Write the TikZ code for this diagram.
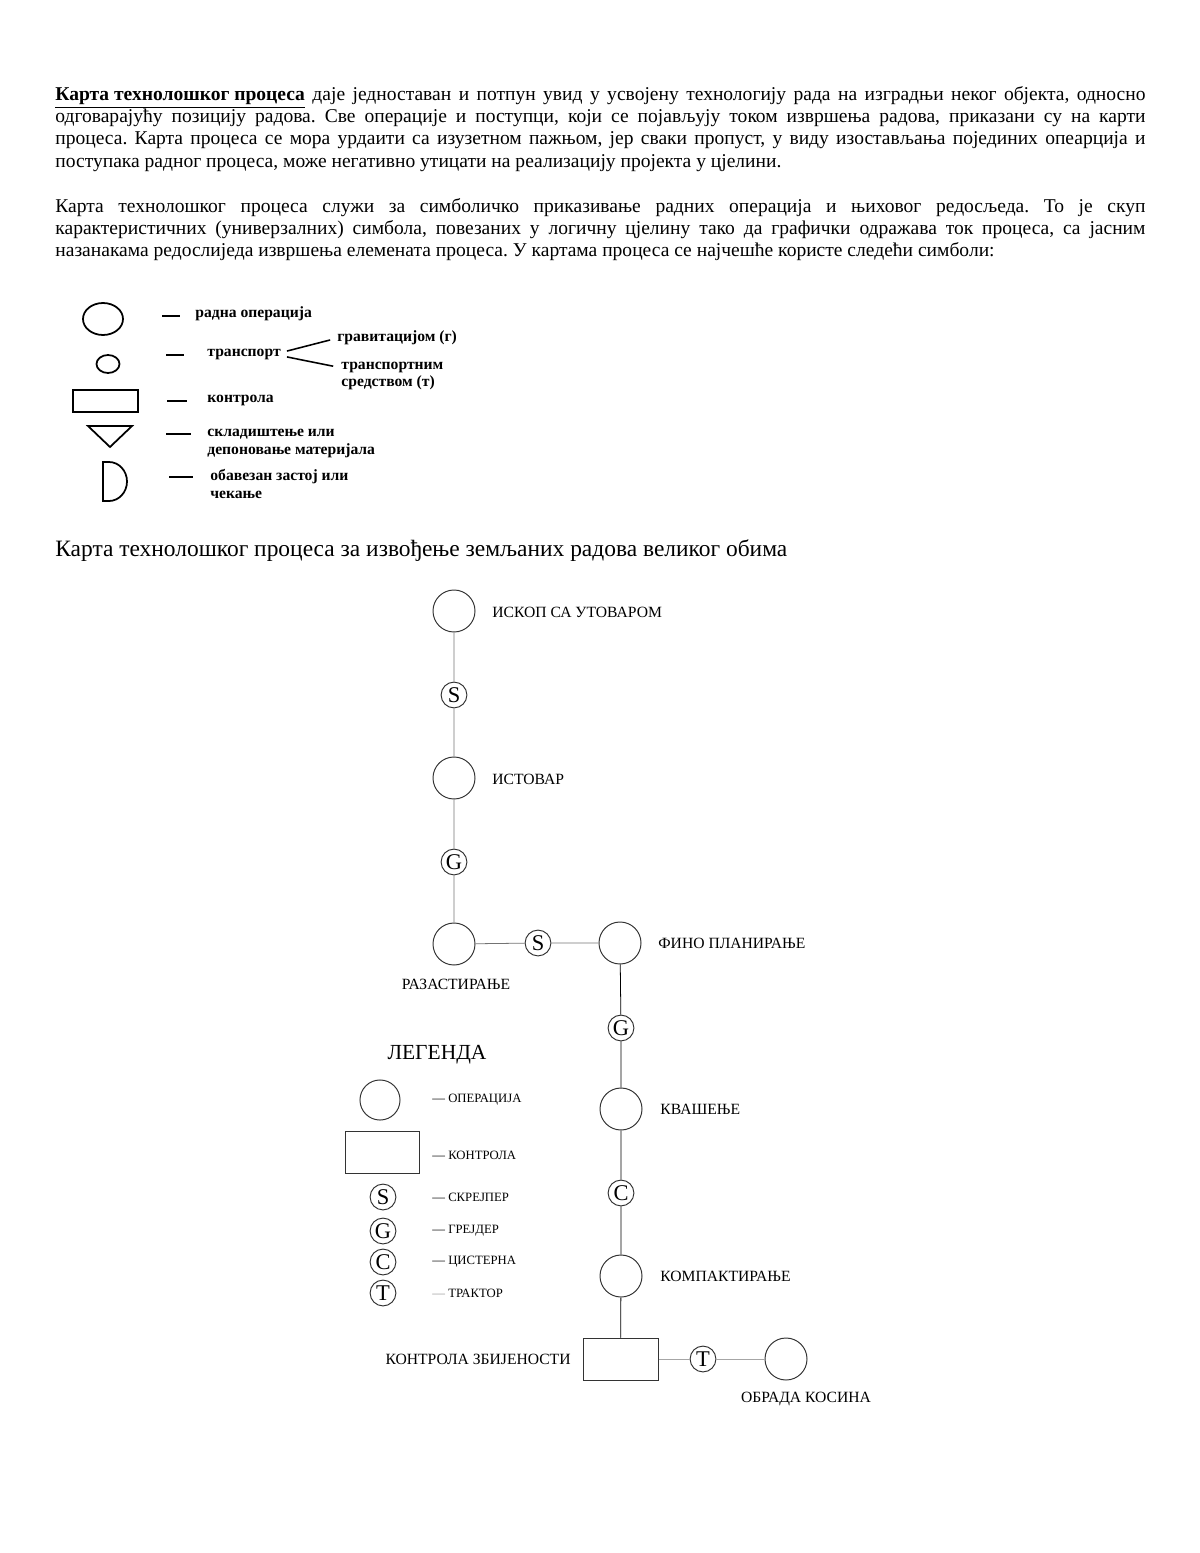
\documentclass[tikz,border=0pt]{standalone}
\usepackage{fontspec}
\setmainfont{Liberation Serif}
\usetikzlibrary{positioning}
\frenchspacing

\tikzset{
  para/.style={anchor=north west,inner sep=0pt,font=\fontsize{10}{11.4}\selectfont},
  oper/.style={circle,draw=black!80,line width=0.5pt,minimum size=21.5pt,inner sep=0pt},
  prev/.style={circle,draw=black!80,line width=0.5pt,minimum size=13.2pt,inner sep=0pt,
    font=\fontsize{11.5}{11.5}\selectfont},
  kontr/.style={rectangle,draw=black!80,line width=0.5pt,minimum width=38.4pt,minimum height=21.5pt},
  lbl/.style={inner sep=0pt,font=\fontsize{8}{9}\selectfont},
  leg/.style={inner sep=0pt,anchor=west,font=\fontsize{6.5}{7}\selectfont},
  simb/.style={inner sep=0pt,anchor=west,align=left,font=\bfseries\fontsize{8}{8.6}\selectfont}
}
\newcommand{\pasus}[1]{\parbox[t]{558pt}{\hyphenpenalty=10000 #1}}

\begin{document}
\begin{tikzpicture}[x=0.01799cm,y=-0.01799cm]
\useasboundingbox (0,0) rectangle (1200,1553);

% Tekst
\node[para] (p1) at (55,86) {\pasus{\underline{\textbf{Карта технолошког процеса}} даје једноставан и потпун увид у усвојену технологију рада на изградњи неког објекта, односно\linebreak
одговарајућу позицију радова. Све операције и поступци, који се појављују током извршења радова, приказани су на карти\linebreak
процеса. Карта процеса се мора урдаити са изузетном пажњом, јер сваки пропуст, у виду изостављања појединих опеарција и\linebreak
поступака радног процеса, може негативно утицати на реализацију пројекта у цјелини.}};
\node[para] (p2) at (55,198) {\pasus{Карта технолошког процеса служи за симболичко приказивање радних операција и њиховог редосљеда. То је скуп\linebreak
карактеристичних (универзалних) симбола, повезаних у логичну цјелину тако да графички одражава ток процеса, са јасним\linebreak
назанакама редослиједа извршења елемената процеса. У картама процеса се најчешће користе следећи симболи:}};

% Simboli
\draw[line width=0.9pt] (103,319) ellipse [x radius=20,y radius=16];
\draw[line width=0.9pt] (108,364) ellipse [x radius=11.5,y radius=9];
\draw[line width=0.9pt] (73,390) rectangle (138,412);
\draw[line width=0.9pt] (88,426) -- (132,426) -- (110,447) -- cycle;
\draw[line width=0.9pt] (109,501) -- (103,501) -- (103,462) -- (109,462) arc[start angle=-90,end angle=90,x radius=18,y radius=19.5];
\foreach \xa/\xb/\y in {162/180/316,166/184/355,167/187/401,166/191/434,169/193/477}
  \draw[line width=0.7pt] (\xa,\y) -- (\xb,\y);
\node[simb] (radna) at (195,314) {радна операција};
\node[simb] (tr) at (207,354) {транспорт};
\node[simb] (grav) at (337,338) {гравитацијом (г)};
\node[simb] (sred) at (341,376) {транспортним\\средством (т)};
\node[simb] (kon) at (207,400) {контрола};
\node[simb,font=\bfseries\fontsize{8}{9.2}\selectfont] (skl) at (207,443) {складиштење или\\депоновање материјала};
\node[simb,font=\bfseries\fontsize{8}{9.2}\selectfont] (zas) at (210,484) {обавезан застој или\\чекање};
\draw[line width=0.8pt] ([xshift=3pt,yshift=1.5pt]tr.east) -- ([xshift=-3.5pt,yshift=-1pt]grav.west);
\draw[line width=0.8pt] ([xshift=3pt,yshift=-1.5pt]tr.east) -- ([xshift=-4pt,yshift=5pt]sred.west);

% Naslov
\node[anchor=base west,inner sep=0pt,font=\fontsize{12}{14}\selectfont] (naslov) at (55,556) {Карта технолошког процеса за извођење земљаних радова великог обима};

% Karta procesa
\node[oper] (iskop) at (454,611) {};
\node[lbl,anchor=west] at (492,612) {ИСКОП СА УТОВАРОМ};
\node[prev] (s1) at (454,695) {S};
\node[oper] (istovar) at (454,778) {};
\node[lbl,anchor=west] at (492,779) {ИСТОВАР};
\node[prev] (g1) at (454,862) {G};
\node[oper] (razast) at (454,944) {};
\node[lbl] at (456,984) {РАЗАСТИРАЊЕ};
\node[prev] (s2) at (538,943) {S};
\node[oper] (fino) at (620,943) {};
\node[lbl,anchor=west] at (658,943) {ФИНО ПЛАНИРАЊЕ};
\node[prev] (g2) at (621,1028) {G};
\node[oper] (kvas) at (621,1109) {};
\node[lbl,anchor=west] at (660,1109) {КВАШЕЊЕ};
\node[prev] (c1) at (621,1193) {C};
\node[oper] (komp) at (621,1276) {};
\node[lbl,anchor=west] at (660,1276) {КОМПАКТИРАЊЕ};
\node[kontr] (zbij) at (620.5,1359) {};
\node[lbl,anchor=east] at (571,1359) {КОНТРОЛА ЗБИЈЕНОСТИ};
\node[prev] (t1) at (703,1359) {T};
\node[oper] (obrada) at (786,1359) {};
\node[lbl] at (806,1399) {ОБРАДА КОСИНА};

\draw[black!55] (iskop) -- (s1) -- (istovar) -- (g1) -- (razast) -- (s2) -- (fino);
\draw (fino) -- (g2) -- (kvas) -- (c1) -- (komp) -- (zbij);
\draw[black!35] (zbij) -- (t1) -- (obrada);

% Legenda
\node[font=\fontsize{11}{12}\selectfont] (legenda) at (437,1055) {ЛЕГЕНДА};
\node[oper,minimum size=20.5pt] (lop) at (380,1100) {};
\node[leg] at (432,1100) {--- ОПЕРАЦИЈА};
\node[kontr,minimum width=37.4pt] (lkon) at (382.5,1152) {};
\node[leg] at (432,1155) {--- КОНТРОЛА};
\foreach \l/\y/\t/\c in {S/1197/СКРЕЈПЕР/black,G/1231/ГРЕЈДЕР/black,C/1262/ЦИСТЕРНА/black,T/1293/ТРАКТОР/black!40}{
  \node[prev] (leg\l) at (383,\y) {\l};
  \node[leg] at (432,\y) {\textcolor{\c}{---} \t};
}
\end{tikzpicture}
\end{document}
